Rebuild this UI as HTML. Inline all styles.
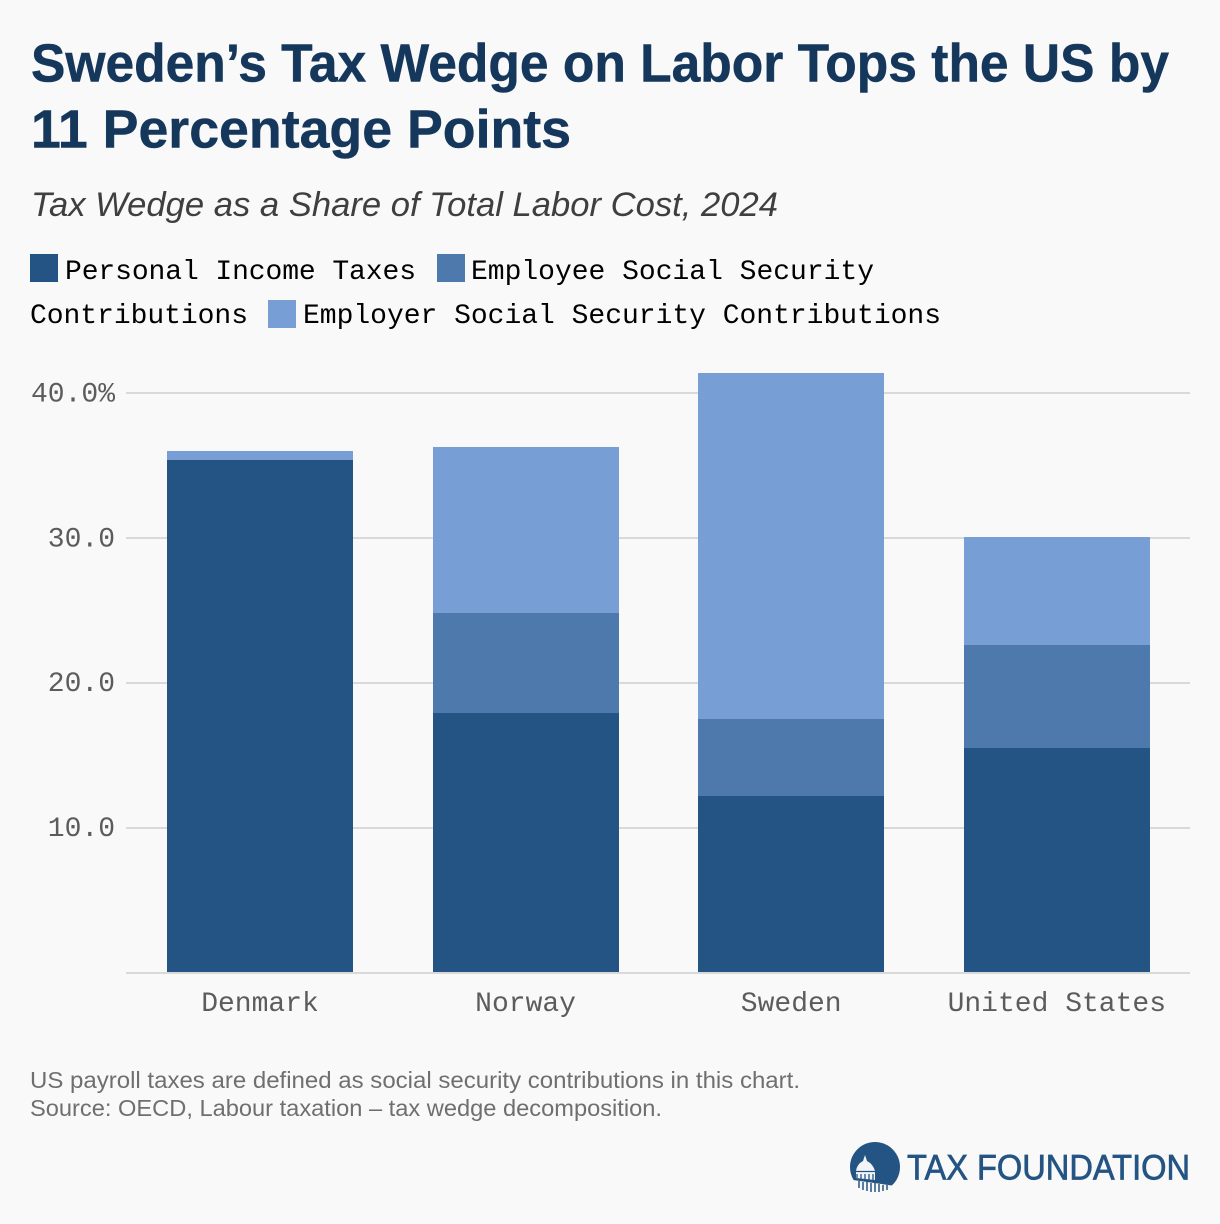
<!DOCTYPE html>
<html lang="en">
<head>
<meta charset="utf-8">
<title>Sweden's Tax Wedge on Labor</title>
<style>
html,body{margin:0;padding:0;background:#f9f9f9;}
#stage{position:relative;width:1220px;height:1224px;overflow:hidden;background:#f9f9f9;}
svg{display:block;position:absolute;left:0;top:0;}
.title{font-family:"Liberation Sans",sans-serif;font-weight:700;font-size:54px;fill:#15375b;stroke:#15375b;stroke-width:.5px;}
.subtitle{font-family:"Liberation Sans",sans-serif;font-style:italic;font-size:34.5px;fill:#3f3f3f;}
.legend-text{font-family:"Liberation Mono",monospace;font-size:28px;fill:#000;}
.tick{font-family:"Liberation Mono",monospace;font-size:28px;fill:#5c5c5c;}
.note{font-family:"Liberation Sans",sans-serif;font-size:23px;fill:#6f6f6f;}
.logo-text{font-family:"Liberation Sans",sans-serif;font-size:35px;fill:#245483;stroke:#245483;stroke-width:.7px;}
</style>
</head>
<body>
<div id="stage">
<svg id="chart" width="1220" height="1224" viewBox="0 0 1220 1224" xmlns="http://www.w3.org/2000/svg">
  <text class="title" x="31" y="81.5" textLength="1138" lengthAdjust="spacingAndGlyphs">Sweden’s Tax Wedge on Labor Tops the US by</text>
  <text class="title" x="31" y="147.5" textLength="540" lengthAdjust="spacingAndGlyphs">11 Percentage Points</text>
  <text class="subtitle" x="31" y="216" textLength="747" lengthAdjust="spacingAndGlyphs">Tax Wedge as a Share of Total Labor Cost, 2024</text>

  <g>
    <rect x="30" y="254" width="28" height="28" fill="#245483"></rect>
    <text class="legend-text" x="65" y="279" textLength="351" lengthAdjust="spacing">Personal Income Taxes</text>
    <rect x="437" y="254" width="28" height="28" fill="#4e79ac"></rect>
    <text class="legend-text" x="471" y="279" textLength="403" lengthAdjust="spacing">Employee Social Security</text>
    <text class="legend-text" x="30" y="323" textLength="218" lengthAdjust="spacing">Contributions</text>
    <rect x="268" y="300" width="28" height="28" fill="#789ed6"></rect>
    <text class="legend-text" x="303" y="323" textLength="638" lengthAdjust="spacing">Employer Social Security Contributions</text>
  </g>

  <g id="grid"></g>
  <g id="bars"></g>
  <g id="yticks"></g>
  <g id="xticks"></g>

  <g>
    <text class="note" x="30" y="1088" textLength="770" lengthAdjust="spacingAndGlyphs">US payroll taxes are defined as social security contributions in this chart.</text>
    <text class="note" x="30" y="1116" textLength="632" lengthAdjust="spacingAndGlyphs">Source: OECD, Labour taxation – tax wedge decomposition.</text>
  </g>

  <g>
    <circle cx="875" cy="1167" r="25" fill="#245483"></circle>
    <path d="M865 1155 L867 1161 Q873 1164 875 1171 L875 1180 L856 1178 L856 1171 Q857 1164 863 1161 Z" fill="#f2f4f7"></path>
    <path d="M856 1171.5H875M857 1174V1178M861 1174V1178.5M865 1174V1179M869 1174V1179.5M873 1174V1180" stroke="#245483" stroke-width="1.3" fill="none"></path>
    <path d="M853 1180 L895 1186 L890 1187 Q884 1193 875 1193 Q865 1193 858 1186 Z" fill="#f9f9f9"></path>
    <path d="M859 1181V1188M863 1182V1190M867 1182V1191M871 1183V1192M875 1183V1192M879 1184V1192M883 1185V1191M887 1185V1190" stroke="#245483" stroke-width="1.5" fill="none"></path>
    <text class="logo-text" x="907" y="1179.5" textLength="283" lengthAdjust="spacingAndGlyphs">TAX FOUNDATION</text>
  </g>
</svg>
</div>
<script>
const categories = ['Denmark', 'Norway', 'Sweden', 'United States'];
const personalIncomeTaxes = [35.35, 17.9, 12.15, 15.45];
const employeeSocialSecurity = [0, 6.9, 5.3, 7.1];
const employerSocialSecurity = [0.6, 11.45, 23.9, 7.5];
const yTickValues = [10, 20, 30, 40];
const yTickLabels = ['10.0', '20.0', '30.0', '40.0%'];

const SVG_NS = 'http://www.w3.org/2000/svg';
const plotLeft = 126, plotRight = 1190, baseline = 972, unitHeight = 14.49;
const bandStart = 127, bandStep = 265.6, barWidth = 186, barInset = 40;

function yScale(value) { return baseline - value * unitHeight; }
function xScale(index) { return bandStart + barInset + index * bandStep; }
function make(tag, attrs, parent) {
  const el = document.createElementNS(SVG_NS, tag);
  for (const k in attrs) el.setAttribute(k, attrs[k]);
  parent.appendChild(el);
  return el;
}

const gridGroup = document.getElementById('grid');
const barsGroup = document.getElementById('bars');
const yGroup = document.getElementById('yticks');
const xGroup = document.getElementById('xticks');

yTickValues.forEach(function (value, i) {
  const line = make('rect', { x: plotLeft, y: Math.round(yScale(value)), width: plotRight - plotLeft, height: 2, fill: '#d9d9d9' }, gridGroup);
  
  
  const label = make('text', { x: 115, y: yScale(value) + 9, 'text-anchor': 'end', class: 'tick' }, yGroup);
  
  
  label.textContent = yTickLabels[i];
});

const baseLine = make('rect', { x: plotLeft, y: baseline, width: plotRight - plotLeft, height: 2, fill: '#d9d9d9' }, gridGroup);



const seriesList = [
  { values: personalIncomeTaxes, color: '#245483', key: 'personal-income-taxes' },
  { values: employeeSocialSecurity, color: '#4e79ac', key: 'employee-social-security' },
  { values: employerSocialSecurity, color: '#789ed6', key: 'employer-social-security' }
];

categories.forEach(function (category, i) {
  let running = 0;
  seriesList.forEach(function (series) {
    const value = series.values[i];
    const top = Math.round(yScale(running + value));
    const bottom = Math.round(yScale(running));
    running += value;
    if (value <= 0) return;
    const bar = make('rect', { x: Math.round(xScale(i)), y: top, width: barWidth, height: bottom - top, fill: series.color }, barsGroup);
    
    
  });
  const label = make('text', { x: xScale(i) + barWidth / 2, y: 1011, 'text-anchor': 'middle', class: 'tick' }, xGroup);
  
  
  label.textContent = category;
});
</script>
</body>
</html>
